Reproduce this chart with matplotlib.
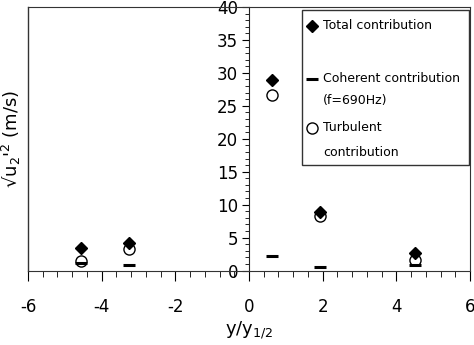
import matplotlib
matplotlib.use("Agg")
import matplotlib.pyplot as plt
from matplotlib.ticker import MultipleLocator
from matplotlib.patches import Rectangle

# positions across the jet (y / y_1/2)
y_pos = [-4.57, -3.27, 0.62, 1.92, 4.52]
# rms velocity contributions (m/s)
total = [3.4, 4.2, 28.9, 8.9, 2.6]
coherent = [1.2, 0.8, 2.25, 0.6, 0.8]
turbulent = [1.5, 3.2, 26.6, 8.3, 1.6]

legend_labels = [["Total contribution"],
                 ["Coherent contribution", "(f=690Hz)"],
                 ["Turbulent", "contribution"]]

plt.rcParams['font.family'] = ['DejaVu Sans']
plt.rcParams['axes.unicode_minus'] = False

fig = plt.figure(figsize=(4.74, 3.45), dpi=100)
ax = fig.add_axes([28 / 474, 1 - 270.5 / 345, 442 / 474, 263.5 / 345])

ax.plot(y_pos, turbulent, linestyle='none', marker='o', markersize=8,
        markerfacecolor='white', markeredgecolor='black', markeredgewidth=1.0, zorder=3)
ax.plot(y_pos, coherent, linestyle='none', marker='_', markersize=8,
        markeredgecolor='black', markeredgewidth=2.2, zorder=4)
ax.plot(y_pos, total, linestyle='none', marker='D', markersize=6,
        color='black', zorder=5)

ax.set_xlim(-6, 6)
ax.set_ylim(0, 40)

# y axis sits at x = 0, frame drawn round the whole plot area
ax.spines['left'].set_position(('data', 0))
ax.spines['left'].set_color('#222222')
for s in ['top', 'right', 'bottom']:
    ax.spines[s].set_color('#333333')
ax.axvline(-6, color='#333333', linewidth=1.0, clip_on=False)

ax.xaxis.set_major_locator(MultipleLocator(2))
ax.xaxis.set_minor_locator(MultipleLocator(0.4))
ax.yaxis.set_major_locator(MultipleLocator(5))
ax.yaxis.set_minor_locator(MultipleLocator(1))

ax.tick_params(axis='x', which='major', direction='out', length=7, pad=13, labelsize=12)
ax.tick_params(axis='x', which='minor', direction='out', length=4)
ax.tick_params(axis='y', which='major', direction='out', length=5, pad=3, labelsize=12)
ax.tick_params(axis='y', which='minor', direction='out', length=3)

ax.set_xlabel("y/y$_{1/2}$", fontsize=13)
ax.xaxis.set_label_coords(0.5, -0.185)
ax.set_ylabel("√u$_2$'$^2$ (m/s)", fontsize=13)
ax.yaxis.set_label_coords(-0.012, 0.5)

# hand-made legend box
ax.add_patch(Rectangle((0.62, 0.40), 0.378, 0.59, transform=ax.transAxes,
                       facecolor='white', edgecolor='#333333', linewidth=1.0, zorder=6))
handles = [dict(marker='D', markersize=6, color='black'),
           dict(marker='_', markersize=8, markeredgecolor='black', markeredgewidth=2.2),
           dict(marker='o', markersize=8, markerfacecolor='white', markeredgecolor='black')]
entry_y = [[0.928], [0.727, 0.644], [0.541, 0.449]]
for h, lines, ys in zip(handles, legend_labels, entry_y):
    ax.plot([0.642], [ys[0]], transform=ax.transAxes, linestyle='none',
            clip_on=False, zorder=7, **h)
    for txt, yy in zip(lines, ys):
        ax.text(0.667, yy, txt, transform=ax.transAxes, fontsize=9,
                va='center', ha='left', zorder=7)

fig.savefig("out.png", dpi=100)
